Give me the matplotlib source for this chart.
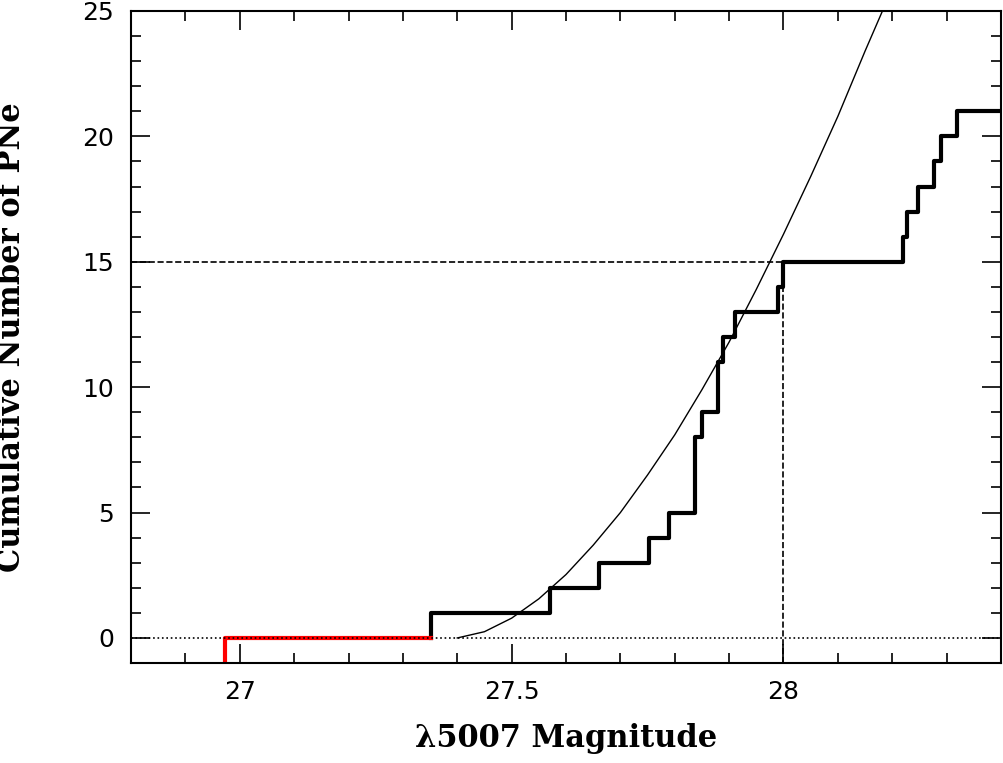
import matplotlib.pyplot as plt
from matplotlib.ticker import MultipleLocator

# cumulative PN counts (step edges)
step_mag = [27.352, 27.571, 27.661, 27.752, 27.789, 27.838, 27.85, 27.879, 27.888,
            27.91, 27.989, 28.0, 28.22, 28.228, 28.248, 28.276, 28.289, 28.319, 28.4]
step_n = [1, 2, 3, 4, 5, 8, 9, 11, 12, 13, 14, 15, 16, 17, 18, 19, 20, 21, 21]

red_mag = [26.972, 26.972, 27.352]
red_n = [-1, 0, 0]

# model curve
curve_mag = [27.40, 27.45, 27.50, 27.55, 27.60, 27.65, 27.70, 27.75, 27.80, 27.85,
             27.90, 27.95, 28.00, 28.05, 28.10, 28.15, 28.20]
curve_n = [0.0, 0.25, 0.79, 1.56, 2.53, 3.7, 5.0, 6.5, 8.1, 9.9,
           11.8, 13.9, 16.1, 18.4, 20.8, 23.4, 25.9]

fig = plt.figure(figsize=(10.04, 7.63), dpi=100)
ax = fig.add_axes([0.1305, 0.131, 0.8665, 0.8546])

ax.plot([red_mag[-1]] + step_mag, [0] + step_n, drawstyle="steps-post", color="black", lw=3)
ax.plot(red_mag, red_n, color="red", lw=3)
ax.plot(curve_mag, curve_n, color="black", lw=1)
ax.plot([26.8, 28.0], [15, 15], ls="--", color="black", lw=1.2)
ax.plot([28.0, 28.0], [-1, 15], ls="--", color="black", lw=1.2)
ax.axhline(0, ls=":", color="black", lw=1.2)

ax.set_xlim(26.8, 28.4)
ax.set_ylim(-1, 25)
ax.xaxis.set_major_locator(MultipleLocator(0.5))
ax.xaxis.set_minor_locator(MultipleLocator(0.1))
ax.yaxis.set_major_locator(MultipleLocator(5))
ax.yaxis.set_minor_locator(MultipleLocator(1))
ax.set_xticks([27, 27.5, 28])
ax.set_xticklabels(["27", "27.5", "28"])
ax.tick_params(which="both", direction="in", top=True, right=True, labelsize=18, width=1.2)
ax.tick_params(which="major", length=14, pad=12)
ax.tick_params(which="minor", length=7)
for s in ax.spines.values():
    s.set_linewidth(1.5)

ax.set_xlabel("λ5007 Magnitude", fontsize=22, fontweight="bold", family="DejaVu Serif", labelpad=14)
ax.set_ylabel("Cumulative Number of PNe", fontsize=22, fontweight="bold", family="DejaVu Serif", labelpad=40)

fig.savefig("out.png")
